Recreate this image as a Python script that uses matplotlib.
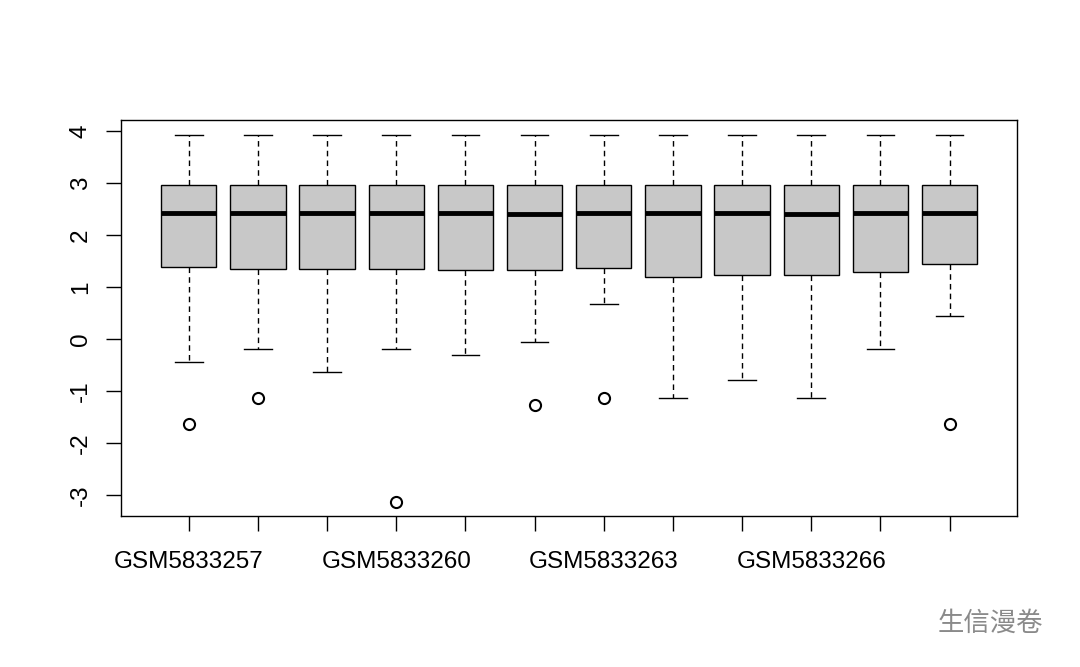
import matplotlib
matplotlib.use('Agg')
from matplotlib import pyplot as plt

samples = ['GSM5833257', 'GSM5833258', 'GSM5833259', 'GSM5833260', 'GSM5833261', 'GSM5833262',
           'GSM5833263', 'GSM5833264', 'GSM5833265', 'GSM5833266', 'GSM5833267', 'GSM5833268']
whislo = [-0.44, -0.19, -0.62, -0.19, -0.31, -0.06, 0.67, -1.13, -0.79, -1.13, -0.19, 0.44]
q1 = [1.38, 1.35, 1.35, 1.35, 1.33, 1.33, 1.37, 1.19, 1.23, 1.23, 1.29, 1.44]
med = [2.42, 2.42, 2.42, 2.42, 2.42, 2.40, 2.42, 2.42, 2.43, 2.40, 2.42, 2.42]
q3 = [2.96] * 12
whishi = [3.92] * 12
fliers = [[-1.63], [-1.13], [], [-3.12], [], [-1.27], [-1.13], [], [], [], [], [-1.63]]
shown_labels = {0: 'GSM5833257', 3: 'GSM5833260', 6: 'GSM5833263', 9: 'GSM5833266'}

plt.rcParams['font.family'] = ['Liberation Sans', 'Noto Sans CJK SC', 'DejaVu Sans']

stats = [dict(whislo=a, q1=b, med=c, q3=d, whishi=e, fliers=f)
         for a, b, c, d, e, f in zip(whislo, q1, med, q3, whishi, fliers)]

fig = plt.figure(figsize=(10.8, 6.67), dpi=100)
ax = fig.add_axes([0.112, 0.226, 0.830, 0.594])
ax.bxp(stats, positions=range(1, 13), widths=0.8, patch_artist=True, showcaps=True,
       boxprops=dict(facecolor='#c8c8c8', edgecolor='black', linewidth=1),
       medianprops=dict(color='black', linewidth=3.5, solid_capstyle='butt'),
       whiskerprops=dict(color='black', linestyle=(0, (4, 3)), linewidth=1),
       capprops=dict(color='black', linewidth=1),
       flierprops=dict(marker='o', markerfacecolor='none', markeredgecolor='black',
                       markersize=8, markeredgewidth=1.5))
ax.set_xlim(0.02, 12.98)
ax.set_ylim(-3.40, 4.21)
ax.set_xticks(range(1, 13))
ax.set_xticklabels([shown_labels.get(i, '') for i in range(12)], fontsize=17.5)
ax.set_yticks(range(-3, 5))
ax.set_yticklabels([str(v) for v in range(-3, 5)], fontsize=17.5, rotation=90, va='center')
ax.tick_params(axis='x', length=11, width=1, pad=14)
ax.tick_params(axis='y', length=11, width=1, pad=10)
for s in ax.spines.values():
    s.set_linewidth(1)

fig.text(0.868, 0.055, '生信漫卷', fontsize=19, color='#8a8a8a', family=['Noto Sans CJK SC'])
fig.savefig('out.png', dpi=100)
